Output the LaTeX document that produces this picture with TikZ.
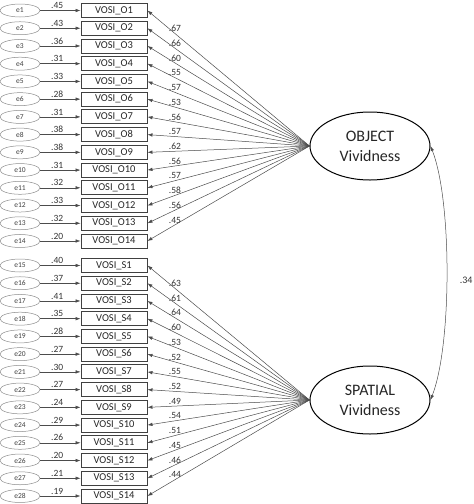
\documentclass[tikz,border=0pt]{standalone}
\usepackage{fontspec}
\setmainfont{Carlito}
\usetikzlibrary{arrows.meta,shapes.geometric}
\begin{document}
\begin{tikzpicture}[x=1pt,y=-1pt,
  errnode/.style={ellipse,draw=black!45,line width=0.5pt,minimum width=40pt,minimum height=13pt,inner sep=0pt,font=\fontsize{7.5}{8}\selectfont,text=black!75},
  obsbox/.style={rectangle,draw=black!75,line width=0.9pt,minimum width=66pt,minimum height=14pt,inner sep=0pt,font=\fontsize{10.5}{11}\selectfont,text=black!85},
  latent/.style={ellipse,draw=black,line width=1pt,minimum width=120pt,minimum height=68pt,inner sep=0pt,align=center,font=\fontsize{16}{20}\selectfont,text=black!85},
  errarrow/.style={draw=black!70,line width=0.5pt,-{Latex[length=5pt,width=3.5pt]}},
  loadarrow/.style={draw=black!70,line width=0.5pt,-{Latex[length=5pt,width=3.5pt]}},
  numlabel/.style={font=\fontsize{9.5}{10}\selectfont,text=black!80,inner sep=1.5pt}]
\useasboundingbox (0,0) rectangle (474,504);
\node[latent] (obj) at (370,146) {OBJECT\\Vividness};
\node[latent] (spa) at (370,400) {SPATIAL\\Vividness};
% object items
\foreach \i/\ev/\lv in {1/.45/.67,2/.43/.66,3/.36/.60,4/.31/.55,5/.33/.57,6/.28/.53,7/.31/.56,8/.38/.57,9/.38/.62,10/.31/.56,11/.32/.57,12/.33/.58,13/.32/.56,14/.20/.45}{
  \pgfmathsetmacro{\yy}{10.5+(\i-1)*17.73}
  \node[obsbox] (o\i) at (114,\yy) {VOSI\_O\i};
  \node[errnode] (e\i) at (20,\yy) {e\i};
  \draw[errarrow] (e\i) -- node[numlabel,above,pos=0.42] {\ev} (o\i);
  \draw[loadarrow] (obj.west) -- node[numlabel,above,pos=0.83] {\lv} (o\i.east);
}
% spatial items
\foreach \i/\ev/\lv in {1/.40/.63,2/.37/.61,3/.41/.64,4/.35/.60,5/.28/.53,6/.27/.52,7/.30/.55,8/.27/.52,9/.24/.49,10/.29/.54,11/.26/.51,12/.20/.45,13/.21/.46,14/.19/.44}{
  \pgfmathsetmacro{\yy}{265.5+(\i-1)*17.73}
  \pgfmathtruncatemacro{\en}{\i+14}
  \node[obsbox] (s\i) at (114,\yy) {VOSI\_S\i};
  \node[errnode] (e\en) at (20,\yy) {e\en};
  \draw[errarrow] (e\en) -- node[numlabel,above,pos=0.42] {\ev} (s\i);
  \draw[loadarrow] (spa.west) -- node[numlabel,above,pos=0.83] {\lv} (s\i.east);
}
\draw[draw=black!70,line width=0.5pt,{Latex[length=5pt,width=3.5pt]}-{Latex[length=5pt,width=3.5pt]}]
  (obj.east) .. controls (452,200) and (452,345) .. (spa.east)
  node[pos=0.5,anchor=west,font=\fontsize{10}{11}\selectfont,text=black!80,inner sep=0pt,xshift=13pt,yshift=-8pt] {.34};
\end{tikzpicture}
\end{document}
